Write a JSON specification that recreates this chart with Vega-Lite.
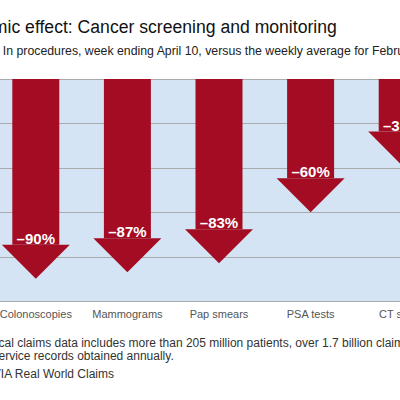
{
  "$schema": "https://vega.github.io/schema/vega-lite/v6.json",
  "autosize": "none",
  "width": 458,
  "height": 222,
  "padding": {"left": -10, "top": 79, "right": -48, "bottom": 99},
  "background": "white",
  "config": {
    "font": "Liberation Sans",
    "view": {"fill": "#d4e4f4", "stroke": null}
  },
  "title": {
    "text": "Pandemic effect: Cancer screening and monitoring",
    "subtitle": "% Change In procedures, week ending April 10, versus the weekly average for February",
    "anchor": "start",
    "frame": "group",
    "dx": -48,
    "fontSize": 17.6,
    "fontWeight": "normal",
    "color": "#111111",
    "subtitleFontSize": 12.3,
    "subtitleColor": "#222222",
    "subtitlePadding": 8,
    "offset": 22
  },
  "data": {
    "values": [
      {"category": "Colonoscopies", "value": -90, "label": "–90%"},
      {"category": "Mammograms", "value": -87, "label": "–87%"},
      {"category": "Pap smears", "value": -83, "label": "–83%"},
      {"category": "PSA tests", "value": -60, "label": "–60%"},
      {"category": "CT scans", "value": -39, "label": "–39%"}
    ]
  },
  "encoding": {
    "x": {
      "field": "category",
      "type": "nominal",
      "sort": null,
      "scale": {"paddingInner": 0, "paddingOuter": 0},
      "axis": {
        "labelAngle": 0,
        "labelFontSize": 11,
        "labelColor": "#555555",
        "labelPadding": 7,
        "ticks": false,
        "domain": false,
        "title": [
          "tical claims data includes more than 205 million patients, over 1.7 billion claims and",
          "service records obtained annually."
        ],
        "titleX": 2,
        "titleY": 45,
        "titleAlign": "left",
        "titleAnchor": "start",
        "titleBaseline": "alphabetic",
        "titleFontSize": 12,
        "titleFontWeight": "normal",
        "titleLineHeight": 13,
        "titleColor": "#333333"
      }
    },
    "y": {
      "field": "value",
      "type": "quantitative",
      "stack": null,
      "scale": {"domain": [-100, 0]},
      "axis": {
        "values": [-100, -80, -60, -40, -20, 0],
        "labels": false,
        "ticks": false,
        "domain": false,
        "grid": true,
        "gridColor": "#aaaaaa",
        "gridWidth": 1.2,
        "title": "Source: IQVIA Real World Claims",
        "titleAngle": 0,
        "titleX": -55,
        "titleY": 298,
        "titleAlign": "left",
        "titleBaseline": "alphabetic",
        "titleFontSize": 12,
        "titleFontWeight": "normal",
        "titleColor": "#333333"
      }
    }
  },
  "layer": [
    {
      "mark": {"type": "bar", "width": 47, "yOffset": -34, "color": "#a40c23"}
    },
    {
      "mark": {
        "type": "point",
        "shape": "M-1,-1L1,-1L0,0Z",
        "size": 4624,
        "filled": true,
        "opacity": 1,
        "color": "#a40c23",
        "strokeWidth": 0
      }
    },
    {
      "mark": {
        "type": "text",
        "dy": -35,
        "baseline": "alphabetic",
        "fontSize": 15,
        "fontWeight": "bold",
        "color": "white"
      },
      "encoding": {"text": {"field": "label"}}
    }
  ]
}
